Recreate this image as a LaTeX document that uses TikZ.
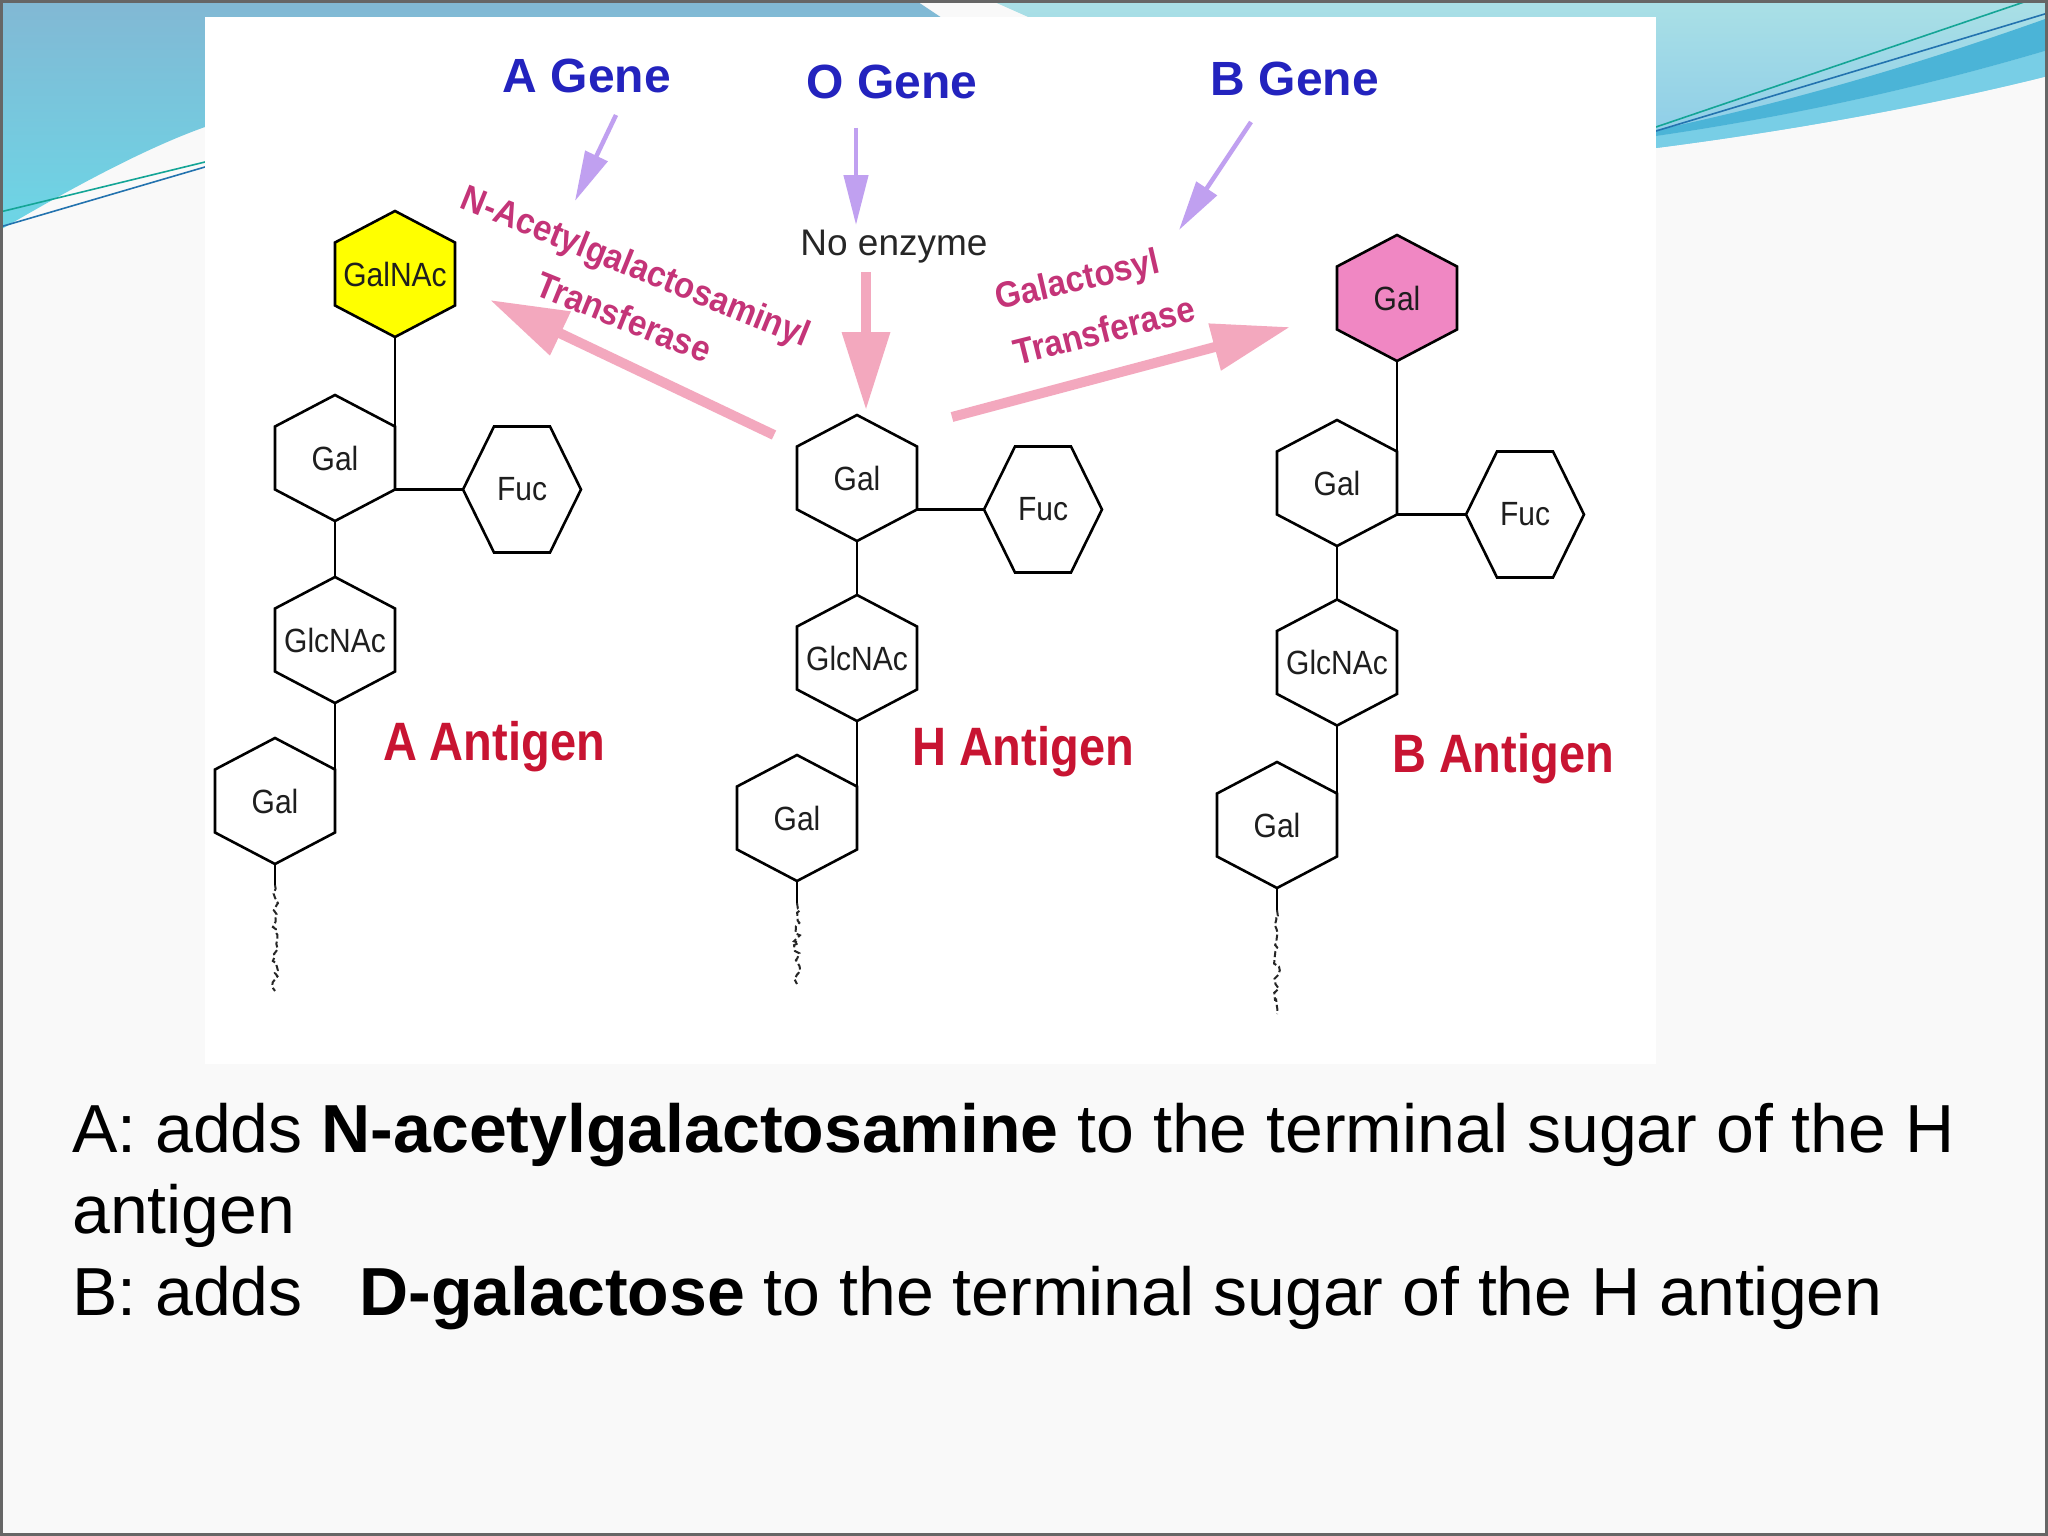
\documentclass[tikz,border=0pt]{standalone}
\usepackage{fontspec}
\setmainfont{Liberation Sans}
\usepackage{graphicx}
\usetikzlibrary{arrows.meta,decorations.pathmorphing}

\definecolor{slidebg}{RGB}{249,249,249}
\definecolor{genecol}{RGB}{35,35,190}
\definecolor{antcol}{RGB}{200,20,50}
\definecolor{enzcol}{RGB}{196,52,120}
\definecolor{purp}{RGB}{192,160,240}
\definecolor{pinkarr}{RGB}{243,168,190}
\definecolor{galpink}{RGB}{240,135,195}
\definecolor{yel}{RGB}{255,255,0}
\definecolor{txtdark}{RGB}{30,30,30}
\definecolor{swA}{RGB}{130,184,212}
\definecolor{swB}{RGB}{108,214,230}
\definecolor{swC}{RGB}{170,224,230}
\definecolor{swD}{RGB}{140,204,232}
\definecolor{swE}{RGB}{75,180,215}
\definecolor{swF}{RGB}{120,206,230}
\definecolor{lnG}{RGB}{20,165,150}
\definecolor{lnB}{RGB}{35,115,175}

\newcommand\vstretch[2]{\scalebox{1}[#1]{#2}}

\begin{document}
\begin{tikzpicture}[x=1pt,y=-1pt,
  bond/.style={draw=black,line width=2.6pt,line join=miter},
  tailline/.style={draw=black!85,line width=2pt,decorate,
    decoration={random steps,segment length=4pt,amplitude=3pt},
    dash pattern=on 6pt off 3pt},
  sugartext/.style={inner sep=0pt,text=txtdark,font=\fontsize{30}{34}\selectfont},
  genelbl/.style={inner sep=0pt,text=genecol,font=\bfseries\fontsize{48}{56}\selectfont},
  antlbl/.style={anchor=base,inner sep=0pt,text=antcol,font=\bfseries\fontsize{47}{54}\selectfont},
  enzlbl/.style={inner sep=0pt,text=black!85,font=\fontsize{37}{42}\selectfont},
  pinklbl/.style={inner sep=0pt,text=enzcol,font=\bfseries\fontsize{33}{38}\selectfont},
  bodytxt/.style={anchor=base west,inner sep=0pt,text=black,font=\fontsize{68}{80}\selectfont},
  purparrow/.style={draw=purp,line width=4.5pt,-{Triangle[length=50pt,width=24pt]}},
  pinkarrow/.style={draw=pinkarr,line width=10pt,-{Triangle[length=78pt,width=46pt]}},
  pics/sugar/.style 2 args={code={
    \draw[bond,fill=#2] (0,-63) -- (60,-31.5) -- (60,31.5) -- (0,63) -- (-60,31.5) -- (-60,-31.5) -- cycle;
    \node[sugartext] (-c) at (0,0) {\vstretch{1.12}{#1}};
    \coordinate (-t) at (0,-63);
    \coordinate (-b) at (0,63);
    \coordinate (-ur) at (60,-31.5);
    \coordinate (-lr) at (60,31.5);
  }},
  pics/fucose/.style={code={
    \draw[bond,fill=white] (-59,0) -- (-28,-63) -- (28,-63) -- (59,0) -- (28,63) -- (-28,63) -- cycle;
    \node[sugartext] (-c) at (0,0) {\vstretch{1.12}{Fuc}};
    \coordinate (-l) at (-59,0);
  }}
]
\useasboundingbox (0,0) rectangle (2048,1536);
\pgfmathsetseed{7}

% slide background
\fill[slidebg] (0,0) rectangle (2048,1536);
% left swoosh
\shade[top color=swA,bottom color=swB] (0,0) -- (915,0) -- (960,30) -- (205,100) -- (205,127)
  .. controls (140,150) and (60,195) .. (0,230) -- cycle;
% right swoosh
\shade[top color=swC,bottom color=swD] (990,0) -- (2048,0) -- (2048,76)
  .. controls (1920,108) and (1780,132) .. (1656,148) -- (1600,148) -- (1600,40) -- (1035,20) -- cycle;
\fill[swF] (1656,136) .. controls (1800,115) and (1930,85) .. (2048,50) -- (2048,76)
  .. controls (1920,108) and (1780,132) .. (1656,148) -- cycle;
\fill[swE] (1656,130) .. controls (1800,100) and (1930,60) .. (2048,18) -- (2048,50)
  .. controls (1930,85) and (1800,115) .. (1656,136) -- cycle;
\draw[lnG,line width=1.6pt] (1656,127) -- (2030,0);
\draw[lnB,line width=1.6pt] (1656,131) -- (2048,13);
\draw[lnG,line width=1.6pt] (0,212) -- (205,162);
\draw[lnB,line width=1.6pt] (0,227) -- (205,167);

% white panel
\fill[white] (205,17) rectangle (1656,1064);

% gene labels
\node[genelbl] (aGeneT) at (587,76) {A Gene};
\node[genelbl] (oGeneT) at (892,82) {O Gene};
\node[genelbl] (bGeneT) at (1295,79) {B Gene};
\node[enzlbl] (noEnz) at (894,247) {No enzyme};

% enzyme names
\node[pinklbl,rotate=-22] (nAcet) at (635,269) {\vstretch{1.1}{N-Acetylgalactosaminyl}};
\node[pinklbl,rotate=-22] (trA) at (624,317) {\vstretch{1.1}{Transferase}};
\node[pinklbl,rotate=13] (galac) at (1078,282) {\vstretch{1.1}{Galactosyl}};
\node[pinklbl,rotate=14] (trB) at (1104,330) {\vstretch{1.1}{Transferase}};

% purple arrows
\coordinate (aS) at (616,115); \coordinate (aE) at (575,201);
\coordinate (oS) at (856,128); \coordinate (oE) at (856,225);
\coordinate (bS) at (1251,122); \coordinate (bE) at (1179,230);
\draw[purparrow] (aS) -- (aE);
\draw[purparrow] (oS) -- (oE);
\draw[purparrow] (bS) -- (bE);

% pink arrows
\coordinate (pDS) at (866,272); \coordinate (pDE) at (866,410);
\coordinate (pLS) at (774,435); \coordinate (pLE) at (490,300);
\coordinate (pRS) at (952,417); \coordinate (pRE) at (1290,327);
\draw[pinkarrow] (pDS) -- (pDE);
\draw[pinkarrow] (pLS) -- (pLE);
\draw[pinkarrow] (pRS) -- (pRE);

% A antigen
\pic (aNac) at (395,274) {sugar={GalNAc}{yel}};
\pic (aGal) at (335,458) {sugar={Gal}{white}};
\pic (aFuc) at (522,489.5) {fucose};
\pic (aGlc) at (335,640) {sugar={GlcNAc}{white}};
\pic (aGal2) at (275,801) {sugar={Gal}{white}};
\draw[bond] (aNac-b) -- (aGal-lr) -- (aFuc-l);
\draw[bond] (aGal-b) -- (aGlc-t);
\draw[bond] (aGlc-b) -- (aGal2-ur);
\coordinate (aMid) at (275,885); \coordinate (aEnd) at (275,991);
\draw[bond] (aGal2-b) -- (aMid);
\draw[tailline] (aMid) -- (aEnd);
\node[antlbl] (aAnt) at (494,760) {\vstretch{1.15}{A Antigen}};

% H antigen
\pic (hGal) at (857,478) {sugar={Gal}{white}};
\pic (hFuc) at (1043,509.5) {fucose};
\pic (hGlc) at (857,658) {sugar={GlcNAc}{white}};
\pic (hGal2) at (797,818) {sugar={Gal}{white}};
\draw[bond] (hGal-lr) -- (hFuc-l);
\draw[bond] (hGal-b) -- (hGlc-t);
\draw[bond] (hGlc-b) -- (hGal2-ur);
\coordinate (hMid) at (797,903); \coordinate (hEnd) at (797,984);
\draw[bond] (hGal2-b) -- (hMid);
\draw[tailline] (hMid) -- (hEnd);
\node[antlbl] (hAnt) at (1023,765) {\vstretch{1.15}{H Antigen}};

% B antigen
\pic (bGalp) at (1397,298) {sugar={Gal}{galpink}};
\pic (bGal) at (1337,483) {sugar={Gal}{white}};
\pic (bFuc) at (1525,514.5) {fucose};
\pic (bGlc) at (1337,662.5) {sugar={GlcNAc}{white}};
\pic (bGal2) at (1277,825) {sugar={Gal}{white}};
\draw[bond] (bGalp-b) -- (bGal-lr) -- (bFuc-l);
\draw[bond] (bGal-b) -- (bGlc-t);
\draw[bond] (bGlc-b) -- (bGal2-ur);
\coordinate (bMid) at (1277,910); \coordinate (bEnd) at (1277,1014);
\draw[bond] (bGal2-b) -- (bMid);
\draw[tailline] (bMid) -- (bEnd);
\node[antlbl] (bAnt) at (1503,772) {\vstretch{1.15}{B Antigen}};

% bottom text
\node[bodytxt] (t1) at (72,1152) {A: adds \textbf{N-acetylgalactosamine} to the terminal sugar of the H};
\node[bodytxt] (t2) at (72,1233.5) {antigen};
\node[bodytxt] (t3) at (72,1315) {B: adds\ \ \ \textbf{D-galactose} to the terminal sugar of the H antigen};

% slide border
\draw[line width=3pt,black!60] (1.5,1.5) rectangle (2046.5,1534.5);
\end{tikzpicture}
\end{document}
